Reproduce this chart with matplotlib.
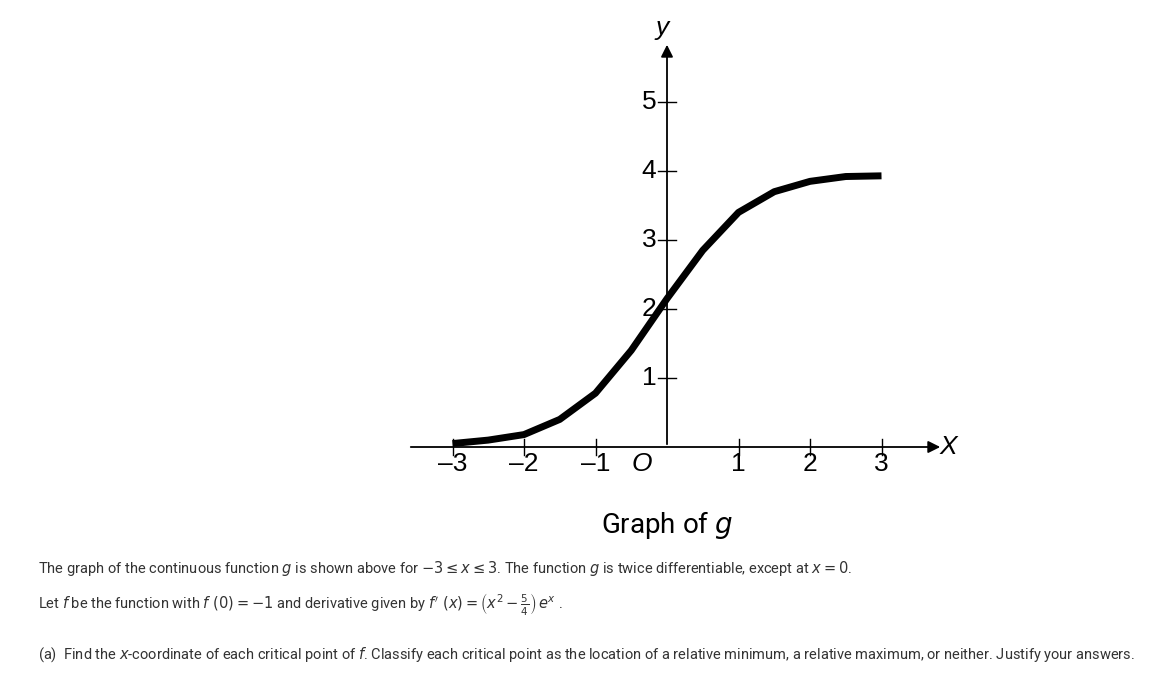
import matplotlib
matplotlib.use('Agg')
import matplotlib.pyplot as plt

# values
xs = [-3, -2.5, -2, -1.5, -1, -0.5, 0, 0.5, 1, 1.5, 2, 2.5, 3]
gs = [0.05, 0.1, 0.18, 0.4, 0.78, 1.4, 2.15, 2.85, 3.4, 3.7, 3.85, 3.92, 3.93]
xticks = [-3, -2, -1, 1, 2, 3]
yticks = [1, 2, 3, 4, 5]

W, H = 1175, 678
fig = plt.figure(figsize=(W / 100, H / 100), dpi=100)
ax = fig.add_axes([0, 0, 1, 1])
ox, oy, sx, sy = 667, 447, 71.5, 69.0
ax.set_xlim(-ox / sx, (W - ox) / sx)
ax.set_ylim(-(H - oy) / sy, oy / sy)
ax.axis('off')

lab = dict(family='Liberation Sans', fontsize=19, color='black')
# axes with arrows
ax.annotate('', xy=(943 / sx - ox / sx, 0), xytext=(408 / sx - ox / sx, 0),
            arrowprops=dict(arrowstyle='-|>', color='black', lw=1.3, mutation_scale=18))
ax.annotate('', xy=(0, (oy - 42) / sy), xytext=(0, 0),
            arrowprops=dict(arrowstyle='-|>', color='black', lw=1.3, mutation_scale=18))
for t in xticks:
    ax.plot([t, t], [-0.12, 0.12], color='black', lw=1)
    ax.text(t, -0.25, str(t).replace('-', '–'), ha='center', va='center', **lab)
for t in yticks:
    ax.plot([-0.12, 0.12], [t, t], color='black', lw=1)
    ax.text(-0.25, t, str(t), ha='center', va='center', **lab)
ax.text(-0.35, -0.25, 'O', ha='center', va='center', style='italic', **lab)
ax.text(-0.07, (oy - 28) / sy, 'y', ha='center', va='center', style='italic', **lab)
ax.text((948 - ox) / sx, 0, 'X', ha='center', va='center', style='italic', **lab)

ax.plot(xs, gs, color='black', lw=5, solid_capstyle='butt')

fig.text(667 / W, 1 - 525 / H, 'Graph of $g$', ha='center', va='center',
         family='Roboto', fontsize=20)
txt = dict(family='Roboto', fontsize=10.5, color='#333333', va='center', ha='left')
fig.text(38 / W, 1 - 568 / H,
         r'The graph of the continuous function $g$ is shown above for $-3 \leq x \leq 3$. '
         r'The function $g$ is twice differentiable, except at $x = 0$.', **txt)
fig.text(38 / W, 1 - 605 / H,
         r"Let $f$ be the function with $f\ (0) = -1$ and derivative given by "
         r"$f^{\prime}\ (x) = \left(x^2 - \frac{5}{4}\right)\, e^x$ .", **txt)
fig.text(38 / W, 1 - 655 / H,
         r'(a)  Find the $x$-coordinate of each critical point of $f$. Classify each critical '
         r'point as the location of a relative minimum, a relative maximum, or neither. '
         r'Justify your answers.', **txt)

fig.savefig('out.png', dpi=100)
